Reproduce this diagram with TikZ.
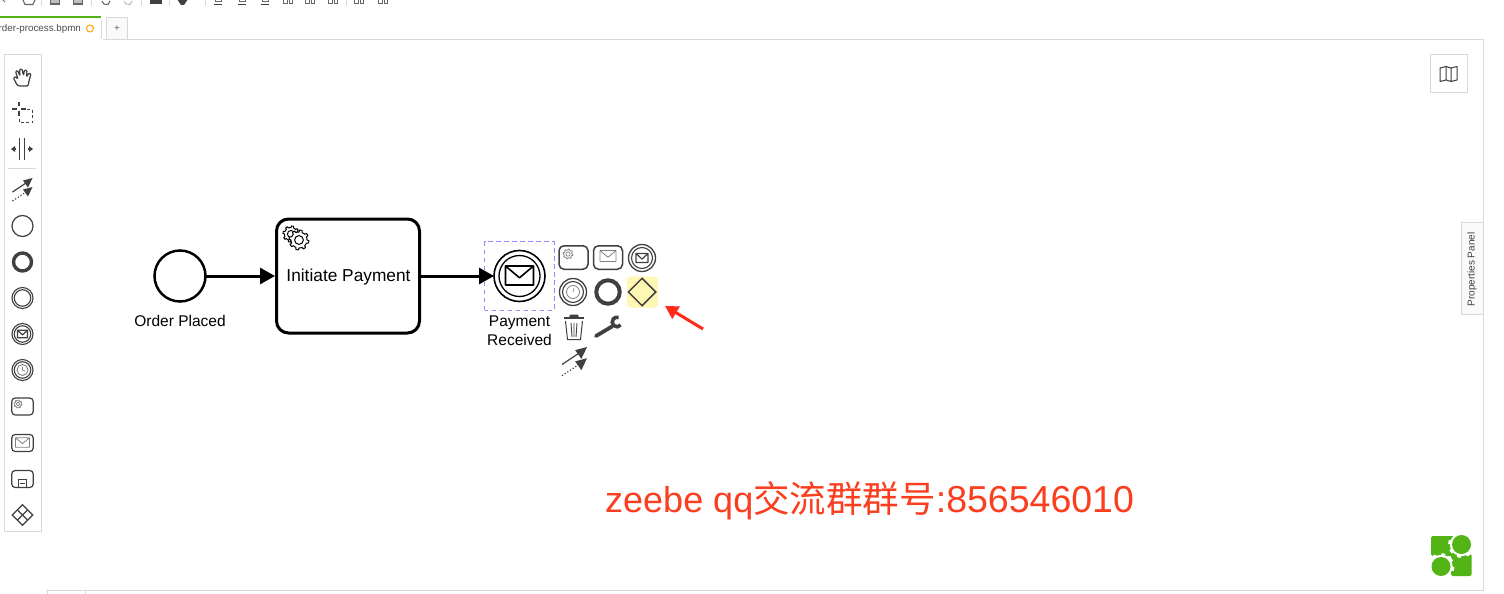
\documentclass[tikz,border=0pt]{standalone}
\usepackage{fontspec}
\setmainfont{Liberation Sans}
\newfontfamily\cjkfont{Noto Sans CJK SC}
\usetikzlibrary{arrows.meta,shapes.geometric,calc}
\definecolor{ico}{HTML}{404040}
\definecolor{frameg}{HTML}{D8D8D8}
\definecolor{zgreen}{HTML}{52B415}
\definecolor{redtxt}{HTML}{FB3E1F}
\definecolor{redarrow}{HTML}{FF2A1A}
\definecolor{selblue}{HTML}{8C8CFF}
\definecolor{hilite}{HTML}{FFF8B5}
\newcommand\fsz[1]{\fontsize{#1}{#1}\selectfont}
% gear: cx cy r lw colour
\newcommand\geargl[5]{%
  \draw[line width=#4,draw=#5,fill=white,line join=round] plot[variable=\t,domain=0:360,samples=97]
    ({#1+#3*(1+0.24*(sin(8*\t)>0))*cos(\t)},{#2+#3*(1+0.24*(sin(8*\t)>0))*sin(\t)}) -- cycle;
  \draw[line width=#4,draw=#5] (#1,#2) circle[radius=0.55*#3];}
% envelope: cx cy w h lw colour
\newcommand\envl[6]{%
  \draw[line width=#5,draw=#6,line join=round] (#1-#3/2,#2-#4/2) rectangle (#1+#3/2,#2+#4/2)
    (#1-#3/2,#2-#4/2) -- (#1,#2+#4*0.12) -- (#1+#3/2,#2-#4/2);}
% connect tool: cx cy scale
\newcommand\conntool[3]{%
  \begin{scope}[shift={(#1,#2)},scale=#3]
    \draw[line width=1.2pt,ico] (-10,2) -- (5,-8);
    \fill[ico] (10,-12) -- (0.5,-9.5) -- (5.5,-2.5) -- cycle;
    \draw[line width=1.2pt,ico,dotted] (-10,11) -- (5,1);
    \fill[ico] (10,-3) -- (0.5,-0.5) -- (5.5,6.5) -- cycle;
  \end{scope}}
\tikzset{
  seqflow/.style={line width=3pt,black,-{Triangle[length=15pt,width=16pt]}},
  evt/.style={circle,draw=black,fill=white,inner sep=0pt,outer sep=0pt},
  lbl/.style={inner sep=0pt,text=black,align=center},
  palette/.style={draw=frameg,fill=white,line width=1pt},
  iconline/.style={draw=ico,line width=1.2pt},
  framel/.style={draw=frameg,line width=1pt},
}
\begin{document}
\begin{tikzpicture}[x=1pt,y=-1pt]
\useasboundingbox (0,0) rectangle (1504,594);
\begin{scope}
\clip (0,0) rectangle (1504,594);
\fill[white] (0,0) rectangle (1504,594);

% top toolbar (cut off by the top of the image)
\foreach \sx in {41.5,91.5,141.5,169,205.5,346.5}
  \draw[draw=frameg,line width=1pt] (\sx,-1) -- (\sx,6);
\foreach \tx in {55,78}
  \draw[ico!80,line width=1.2pt,fill=gray!50] (\tx-4.5,-2) rectangle (\tx+4.5,4);
\fill[ico] (150,-1) rectangle (162,4.5);
\fill[ico] (177,-1) -- (188,-1) -- (184,5) -- (181,5) -- cycle;
\foreach \tx in {218,242,265} {
  \draw[ico,line width=1pt] (\tx-4,4.5) -- (\tx+4,4.5);
  \draw[ico!80,line width=1pt] (\tx-3,-1) rectangle (\tx+3,2);
}
\foreach \tx in {288,310,333,359,383}
  \draw[ico!80,line width=1pt] (\tx-4.5,-1) -- (\tx-4.5,4) -- (\tx-1,4) -- (\tx-1,-1) (\tx+1,-1) -- (\tx+1,4) -- (\tx+4.5,4) -- (\tx+4.5,-1);
\draw[ico!80,line width=1.1pt] (23,0) -- (25,4.5) -- (33,4.5) -- (35,0);
\draw[ico!80,line width=1pt] (3,0) -- (5,2);
\draw[ico!80,line width=1.1pt] (102,1) -- (104,4) -- (108,4.5) -- (110,1);
\draw[gray!50,line width=1.1pt] (124,1) -- (126,4) -- (130,4.5) -- (132,1);

% tab bar and canvas frame
\draw[framel] (103,39.5) -- (1483.5,39.5) -- (1483.5,590.5) -- (46,590.5);
\draw[framel] (101.5,20) -- (101.5,39.5);
\fill[zgreen] (0,16) rectangle (101,18);
\node[lbl,anchor=west,text=black!70] (tabname) at (-1.5,28.5) {\fsz{9.8}rder-process.bpmn};
\node[circle,draw=orange!70!yellow,line width=1pt,minimum size=7pt,inner sep=0pt] (tabmark) at (90,28.5) {};
\node[draw=frameg,fill=black!2,line width=1pt,minimum width=21pt,minimum height=22pt,inner sep=0pt,text=black!60] (plustab) at (117,29) {\fsz{10}+};
\draw[framel] (47,590.5) -- (47,594) (85.5,590.5) -- (85.5,594);

% palette
\node[palette,minimum width=37pt,minimum height=476pt,inner sep=0pt] (pal) at (22.5,293) {};
% hand
\draw[iconline,line join=round,rounded corners=1pt,fill=white] (17,85) -- (13.5,78) -- (15,76.5) -- (18,79) -- (15.5,71.5) -- (17.5,70.5) -- (20,76) -- (19.5,69.5) -- (22,69) -- (23.5,75.5) -- (24.5,70) -- (27,70.5) -- (26.5,77) -- (29,73) -- (31,74) -- (29,81) -- (28,86) -- (19,86) -- cycle;
% lasso
\draw[ico,line width=2pt] (12,108.5) -- (16.5,108.5) (21,108.5) -- (25.5,108.5) (18.7,102) -- (18.7,106) (18.7,111) -- (18.7,115.5);
\draw[ico,line width=1pt,dash pattern=on 3pt off 2.5pt] (27,109.5) -- (32.5,109.5) -- (32.5,122.5) -- (19,122.5) -- (19,118);
% space
\draw[ico,line width=1pt] (19.5,138) -- (19.5,160) (24.5,138) -- (24.5,160);
\draw[ico,line width=1.2pt] (12,149) -- (16,149) (28,149) -- (32,149);
\fill[ico] (11,149) -- (15,146) -- (15,152) -- cycle (33,149) -- (29,146) -- (29,152) -- cycle;
\draw[draw=frameg,line width=1pt] (8,168) -- (36,168);
\conntool{22.5}{190}{1}
% events
\node[evt,draw=ico,line width=1.2pt,minimum size=21pt] (pStart) at (22.5,226) {};
\node[evt,draw=ico,line width=3.4pt,minimum size=18pt] (pEnd) at (22.5,262) {};
\node[evt,draw=ico,line width=1.1pt,minimum size=21pt] (pInter) at (22.5,298) {};
\node[evt,draw=ico,line width=1.1pt,minimum size=16.5pt] (pInterB) at (22.5,298) {};
\node[evt,draw=ico,line width=1.1pt,minimum size=21pt] (pMsg) at (22.5,334) {};
\node[evt,draw=ico,line width=1.1pt,minimum size=16.5pt] (pMsgB) at (22.5,334) {};
\envl{22.5}{334}{10}{7.5}{1.2pt}{ico}
\node[evt,draw=ico,line width=1.1pt,minimum size=21pt] (pTim) at (22.5,370) {};
\node[evt,draw=ico,line width=1.1pt,minimum size=16.5pt] (pTimB) at (22.5,370) {};
\node[evt,draw=gray,line width=.9pt,minimum size=11pt] (pTimC) at (22.5,370) {};
\draw[gray,line width=.7pt] (22.5,370) -- (22.5,366.5) (22.5,370) -- (25,371);
% tasks
\node[draw=ico,line width=1.2pt,rounded corners=3.5pt,minimum width=21.5pt,minimum height=17pt,inner sep=0pt] (pTask) at (22.5,406.5) {};
\geargl{18}{404}{3.2}{.7pt}{gray}
\node[draw=ico,line width=1.2pt,rounded corners=3.5pt,minimum width=21.5pt,minimum height=17pt,inner sep=0pt] (pMT) at (22.5,443) {};
\envl{22.5}{442.5}{14}{9.5}{.8pt}{gray}
\node[draw=ico,line width=1.2pt,rounded corners=3.5pt,minimum width=21.5pt,minimum height=17pt,inner sep=0pt] (pSub) at (22.5,479) {};
\draw[ico,line width=.9pt] (18.5,479.5) rectangle (26.5,487.5) (20,483.5) -- (25,483.5);
\node[diamond,draw=ico,line width=1.2pt,minimum width=21pt,minimum height=21pt,inner sep=0pt,aspect=1] (pGw) at (22.5,515) {};
\draw[ico,line width=1.2pt] (17.5,510) -- (27.5,520) (27.5,510) -- (17.5,520);

% map button
\node[draw=frameg,fill=white,line width=1pt,minimum size=37pt,inner sep=0pt] (mapbtn) at (1448.5,73.5) {};
\draw[ico,line width=1pt,line join=round] (1440,68) -- (1446,66.5) -- (1451,68) -- (1457,66.5) -- (1457,80) -- (1451,81.5) -- (1446,80) -- (1440,81.5) -- cycle (1446,66.5) -- (1446,80) (1451,68) -- (1451,81.5);

% properties panel tab
\node[draw=frameg,fill=black!2,line width=1pt,minimum width=22pt,minimum height=92pt,inner sep=0pt] (proptab) at (1472,268) {};
\node[lbl,rotate=90,text=black!75] (proptxt) at (1472,269.5) {\fsz{10}Properties Panel};

% BPMN diagram
\node[evt,line width=2.5pt,minimum size=51pt] (orderStart) at (180,276) {};
\node[lbl] (orderLbl) at (180,320.5) {\fsz{15.5}Order Placed};
\node[draw=black,fill=white,line width=3pt,rounded corners=12pt,minimum width=143pt,minimum height=114pt,inner sep=0pt] (initTask) at (348,276) {};
\node[lbl] (initLbl) at (348.5,277) {\fsz{17.3}Initiate Payment};
\geargl{291}{234}{6.5}{1pt}{black}
\geargl{299}{240}{8}{1pt}{black}
\node[draw=none,minimum width=69pt,minimum height=68pt,inner sep=0pt] (selBox) at (519.5,276) {};
\draw[draw=selblue,line width=1.3pt,dash pattern=on 4.5pt off 3.5pt] (selBox.south west) rectangle (selBox.north east);
\node[evt,line width=1.6pt,minimum size=51pt] (payOuter) at (519.5,276) {};
\node[evt,line width=1.3pt,minimum size=41pt] (payInner) at (519.5,276) {};
\envl{519.5}{275.5}{28}{19}{1.6pt}{black}
\node[lbl,align=center] (payLbl) at (519.5,333) {\fsz{15.5}\begin{tabular}{@{}c@{}}Payment\\[2.4pt]Received\end{tabular}};
\draw[seqflow] (orderStart) -- (initTask);
\draw[seqflow] (initTask) -- (payOuter);

% context pad
\node[draw=ico,line width=1.5pt,rounded corners=5pt,minimum width=29pt,minimum height=23.5pt,inner sep=0pt] (cTask) at (573.5,257.5) {};
\geargl{568}{254}{4}{.7pt}{gray}
\node[draw=ico,line width=1.5pt,rounded corners=5pt,minimum width=29pt,minimum height=23.5pt,inner sep=0pt] (cMsg) at (608,257.5) {};
\envl{608}{256}{16}{11}{.8pt}{gray}
\node[evt,draw=ico,line width=1.3pt,minimum size=27pt] (cIm) at (642,258) {};
\node[evt,draw=ico,line width=1.1pt,minimum size=21pt] (cImB) at (642,258) {};
\envl{642}{258}{12}{9}{1.2pt}{ico}
\node[evt,draw=ico,line width=1.3pt,minimum size=27pt] (cTm) at (573,292) {};
\node[evt,draw=ico,line width=1.1pt,minimum size=21pt] (cTmB) at (573,292) {};
\node[evt,draw=gray,line width=.8pt,minimum size=13pt] (cTmC) at (573,292) {};
\draw[gray,line width=.6pt] (573,292) -- (574,288);
\node[evt,draw=ico,line width=4pt,minimum size=23.5pt] (cEnd) at (608,292) {};
\node[fill=hilite,rounded corners=3pt,minimum width=31pt,minimum height=31pt,inner sep=0pt] (cHl) at (642.5,292) {};
\node[diamond,draw=ico,line width=1.5pt,minimum width=28pt,minimum height=28pt,inner sep=0pt,aspect=1] (cGw) at (642,292) {};
% trash
\draw[ico,line width=1pt,line join=round] (565.5,321) -- (567.5,339.5) -- (580.5,339.5) -- (582.5,321);
\draw[ico,line width=2.4pt] (563.5,318) -- (584,318);
\fill[ico] (569,318) -- (570,314.5) -- (578,314.5) -- (579,318) -- cycle;
\draw[ico,line width=.9pt] (571,323) -- (572,337) (574,323) -- (574,337) (577,323) -- (576,337);
% wrench
\draw[ico,line width=3.8pt,line cap=round] (596,336) -- (612,326.5);
\draw[ico,line width=3.6pt] (617,322) ++(40:4.8) arc[start angle=40,end angle=290,radius=4.8];
\conntool{574.5}{362}{1.25}

% annotation
\coordinate (redFrom) at (703,329);
\coordinate (redTo) at (665,306);
\draw[redarrow,line width=3pt,-{Triangle[length=13pt,width=14pt]}] (redFrom) -- (redTo);
\node[lbl,anchor=west,text=redtxt] (qqNote) at (605,500.5) {\fsz{36}zeebe qq{\cjkfont\fsz{36.5}交流群群号}\fsz{37.5}:856546010};

% logo
\fill[zgreen,rounded corners=1.5pt] (1431,536) rectangle (1454,556);
\fill[zgreen,rounded corners=1.5pt] (1451,554) rectangle (1471.5,576);
\fill[white] plot[variable=\t,domain=0:360,samples=97] ({1461.5+11.5*(1+0.16*(sin(8*\t)>0))*cos(\t)},{544.5+11.5*(1+0.16*(sin(8*\t)>0))*sin(\t)}) -- cycle;
\fill[white] plot[variable=\t,domain=0:360,samples=97] ({1441+11.5*(1+0.16*(sin(8*\t)>0))*cos(\t)},{566.5+11.5*(1+0.16*(sin(8*\t)>0))*sin(\t)}) -- cycle;
\fill[zgreen] (1461.5,544.5) circle[radius=9.5];
\fill[zgreen] (1441,566.5) circle[radius=9.5];
\end{scope}
\end{tikzpicture}
\end{document}
